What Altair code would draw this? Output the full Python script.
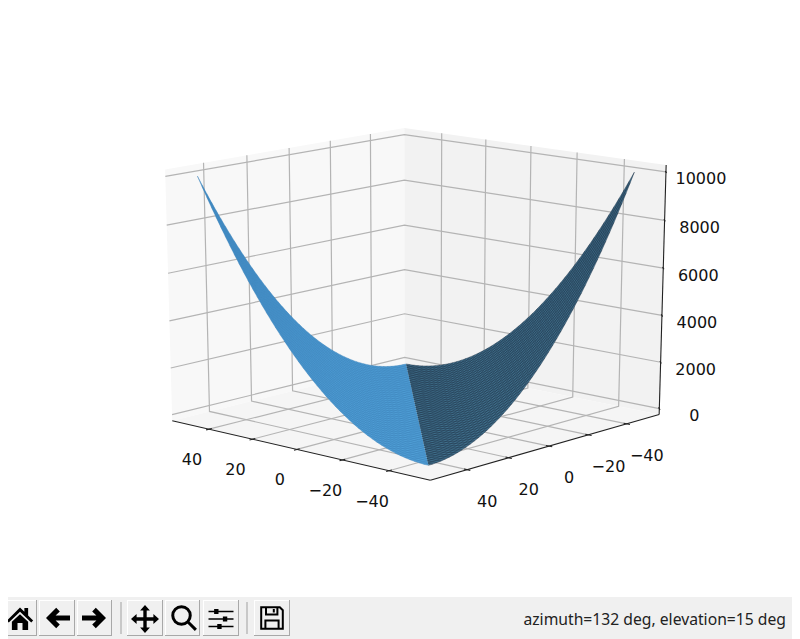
import math
import numpy as np
import pandas as pd
import altair as alt

# ---- values
azimuth, elevation = 132.0, 15.9   # the status line shows these cut down to whole degrees
status_text = "azimuth=132 deg, elevation=15 deg"
surface_extent = [-50, 50]
x_limits = [-55, 55]
y_limits = [-55, 55]
z_limits = [-50, 10075]
x_ticks = [40, 20, 0, -20, -40]
y_ticks = [40, 20, 0, -20, -40]
z_ticks = [0, 2000, 4000, 6000, 8000, 10000]
grid_step = 2
# height of the surface at distance |x+y| = 0, 2, 4 ... 100 from the valley
trough_height = [0, 4, 16, 36, 64, 100, 144, 196, 256, 324, 400, 484, 576, 676, 784, 900, 1024,
                 1156, 1296, 1444, 1600, 1764, 1936, 2116, 2304, 2500, 2704, 2916, 3136, 3364,
                 3600, 3844, 4096, 4356, 4624, 4900, 5184, 5476, 5776, 6084, 6400, 6724, 7056,
                 7396, 7744, 8100, 8464, 8836, 9216, 9604, 10000]

# ---- 3D view (perspective camera)
dist = 10.0
az, el = math.radians(azimuth), math.radians(elevation)
R = np.array([0.5, 0.5, 0.5])
E = R + dist * np.array([math.cos(el) * math.cos(az), math.cos(el) * math.sin(az), math.sin(el)])
n = (E - R) / np.linalg.norm(E - R)
u = np.cross([0, 0, 1.0], n)
u /= np.linalg.norm(u)
v = np.cross(n, u)


def raw(px, py, pz):
    P = np.array([px, py, pz]) - E
    w = -n.dot(P)
    return u.dot(P) / w, v.dot(P) / w


# where the box sits on the page: unit-cube corner -> screen position
pad = 1 / 48
anchors = [
    ((1 + pad, 1 + pad, -pad), (172, 420)),
    ((-pad, 1 + pad, -pad), (430, 481)),
    ((-pad, -pad, -pad), (659, 412)),
    ((1 + pad, -pad, -pad), (405, 366)),
    ((1 + pad, 1 + pad, 1 + pad), (165, 169)),
    ((1 + pad, -pad, 1 + pad), (405, 128)),
    ((-pad, -pad, 1 + pad), (666, 165)),
]
A = np.array([raw(*a[0]) for a in anchors])
B = np.array([a[1] for a in anchors], dtype=float)
cx = np.polyfit(A[:, 0], B[:, 0], 1)
cy = np.polyfit(A[:, 1], B[:, 1], 1)


def unit(x, y, z):
    return ((x - x_limits[0]) / (x_limits[1] - x_limits[0]),
            (y - y_limits[0]) / (y_limits[1] - y_limits[0]),
            (z - z_limits[0]) / (z_limits[1] - z_limits[0]))


def proj(x, y, z):
    X, Y = raw(*unit(x, y, z))
    return cx[0] * X + cx[1], cy[0] * Y + cy[1]


def height(x, y):
    return trough_height[abs(x + y) // grid_step]


xs = x_limits[1] - x_limits[0]
ys = y_limits[1] - y_limits[0]
zs = z_limits[1] - z_limits[0]
xa, xb = x_limits[0] - xs * pad, x_limits[1] + xs * pad
ya, yb = y_limits[0] - ys * pad, y_limits[1] + ys * pad
za, zb = z_limits[0] - zs * pad, z_limits[1] + zs * pad

X_SCALE = alt.Scale(domain=[8, 792], nice=False, zero=False)
Y_SCALE = alt.Scale(domain=[639, 8], nice=False, zero=False)


def frame(paths):
    rows = []
    for k, path in enumerate(paths):
        for i, (a, b) in enumerate(path):
            rows.append({"id": k, "i": i, "a": float(a), "b": float(b)})
    return pd.DataFrame(rows)


def enc(chart):
    return chart.encode(
        x=alt.X("a:Q", scale=X_SCALE, axis=None),
        y=alt.Y("b:Q", scale=Y_SCALE, axis=None),
        detail="id:N",
        order="i:Q",
    )


def polys(paths, fill):
    return enc(alt.Chart(frame(paths)).mark_line(fill=fill, strokeWidth=0, interpolate="linear-closed", opacity=1))


def lines(paths, color, width, opacity=1.0):
    return enc(alt.Chart(frame(paths)).mark_line(color=color, strokeWidth=width, opacity=opacity))


def P3(pts):
    return [proj(*p) for p in pts]


layers = []

# panes
layers.append(polys([P3([(xb, yb, za), (xb, ya, za), (xb, ya, zb), (xb, yb, zb)])], "#f8f8f8"))
layers.append(polys([P3([(xb, ya, za), (xa, ya, za), (xa, ya, zb), (xb, ya, zb)])], "#f2f2f2"))
layers.append(polys([P3([(xa, ya, za), (xb, ya, za), (xb, yb, za), (xa, yb, za)])], "#f5f5f5"))

# grid
grid = []
for t in x_ticks:
    grid.append(P3([(t, yb, za), (t, ya, za), (t, ya, zb)]))
for t in y_ticks:
    grid.append(P3([(xa, t, za), (xb, t, za), (xb, t, zb)]))
for t in z_ticks:
    grid.append(P3([(xb, yb, t), (xb, ya, t), (xa, ya, t)]))
layers.append(lines(grid, "#b4b4b4", 1.2))

# axis lines and ticks
ax_lines = [P3([(xb, yb, za), (xa, yb, za)]), P3([(xa, yb, za), (xa, ya, za)]), P3([(xa, ya, za), (xa, ya, zb)])]
d = 0.012
for t in x_ticks:
    ax_lines.append(P3([(t, yb - ys * d, za), (t, yb + ys * d, za)]))
for t in y_ticks:
    ax_lines.append(P3([(xa - xs * d, t, za), (xa + xs * d, t, za)]))
for t in z_ticks:
    ax_lines.append(P3([(xa + xs * d, ya - ys * d, t), (xa - xs * d, ya + ys * d, t)]))
layers.append(lines(ax_lines, "#222222", 1.1))

# surface
lo, hi = surface_extent
steps = list(range(lo, hi + 1, grid_step))
rev = steps[::-1]
left_poly = [(x, hi, height(x, hi)) for x in rev] + [(hi, y, height(hi, y)) for y in steps]
right_poly = [(lo, y, height(lo, y)) for y in rev] + [(x, lo, height(x, lo)) for x in steps]
layers.append(polys([P3(left_poly)], "#509fd6"))
layers.append(polys([P3(right_poly)], "#3f6e8a"))

mesh_left, mesh_right = [], []
for c in steps:
    a = [(c, y) for y in steps if c + y >= 0]
    b = [(c, y) for y in steps if c + y <= 0]
    e = [(x, c) for x in steps if x + c >= 0]
    f = [(x, c) for x in steps if x + c <= 0]
    for seq in (a, e):
        if len(seq) > 1:
            mesh_left.append(P3([(p, q, height(p, q)) for p, q in seq]))
    for seq in (b, f):
        if len(seq) > 1:
            mesh_right.append(P3([(p, q, height(p, q)) for p, q in seq]))
layers.append(lines(mesh_left, "#3a7fb5", 0.4))
layers.append(lines(mesh_right, "#1d3042", 0.45))

# tick labels
lab = []
for t in x_ticks:
    a, b = proj(t, yb, za)
    lab.append({"a": a - 17, "b": b + 31, "t": str(t).replace("-", "\u2212")})
for t in y_ticks:
    a, b = proj(xa, t, za)
    lab.append({"a": a + 20, "b": b + 32, "t": str(t).replace("-", "\u2212")})
for t in z_ticks:
    a, b = proj(xa, ya, t)
    lab.append({"a": a + 35, "b": b + 7.5, "t": str(t)})
layers.append(alt.Chart(pd.DataFrame(lab)).mark_text(font="DejaVu Sans", fontSize=16, color="#111111",
                                                      align="center", baseline="middle").encode(
    x=alt.X("a:Q", scale=X_SCALE, axis=None), y=alt.Y("b:Q", scale=Y_SCALE, axis=None), text="t:N"))

# toolbar
def rect(x0, x1, y0, y1, color):
    return alt.Chart(pd.DataFrame({"a": [max(x0, 8)], "a2": [min(x1, 792)], "b": [y0], "b2": [y1]})).mark_rect(color=color).encode(
        x=alt.X("a:Q", scale=X_SCALE, axis=None), x2="a2:Q",
        y=alt.Y("b:Q", scale=Y_SCALE, axis=None), y2="b2:Q")


layers.append(rect(0, 800, 597, 639, "#f0f0f0"))
buttons = [(3, 37), (39, 75), (77, 112), (127, 163), (165, 200), (203, 239), (254, 290)]
for b0, b1 in buttons:
    layers.append(rect(b0, b1, 600, 636, "#a8a8a8"))
    layers.append(rect(b0, b1 - 1, 600, 635, "#ffffff"))
    layers.append(rect(b0 + 1, b1 - 1, 601, 635, "#f0f0f0"))
for sx in (120, 246):
    layers.append(rect(sx, sx + 2, 602, 634, "#c8c8c8"))

ICON_HOME = "M0,-0.85 L0.35,-0.5 L0.35,-0.8 L0.65,-0.8 L0.65,-0.2 L1.05,0.2 L0.9,0.35 L0,-0.5 L-0.9,0.35 L-1.05,0.2 Z M-0.65,0.3 L0,-0.3 L0.65,0.3 L0.65,0.95 L0.2,0.95 L0.2,0.4 L-0.2,0.4 L-0.2,0.95 L-0.65,0.95 Z"
ICON_LEFT = "M-1,0 L-0.15,-0.85 L0.15,-0.55 L-0.2,-0.2 L1,-0.2 L1,0.2 L-0.2,0.2 L0.15,0.55 L-0.15,0.85 Z"
ICON_RIGHT = "M1,0 L0.15,-0.85 L-0.15,-0.55 L0.2,-0.2 L-1,-0.2 L-1,0.2 L0.2,0.2 L-0.15,0.55 L0.15,0.85 Z"
ICON_MOVE = "M0,-1 L0.35,-0.6 L0.12,-0.6 L0.12,-0.12 L0.6,-0.12 L0.6,-0.35 L1,0 L0.6,0.35 L0.6,0.12 L0.12,0.12 L0.12,0.6 L0.35,0.6 L0,1 L-0.35,0.6 L-0.12,0.6 L-0.12,0.12 L-0.6,0.12 L-0.6,0.35 L-1,0 L-0.6,-0.35 L-0.6,-0.12 L-0.12,-0.12 L-0.12,-0.6 L-0.35,-0.6 Z"
ICON_ZOOM = "M0.5,-0.2 A0.7,0.7 0 1,1 -0.9,-0.2 A0.7,0.7 0 1,1 0.5,-0.2 M0.3,0.3 L0.95,0.95"
ICON_SLIDE = "M-1,-0.6 L1,-0.6 M-1,0 L1,0 M-1,0.6 L1,0.6"
ICON_KNOBS = "M-0.55,-0.8 L-0.2,-0.8 L-0.2,-0.4 L-0.55,-0.4 Z M0.15,-0.2 L0.5,-0.2 L0.5,0.2 L0.15,0.2 Z M-0.3,0.4 L0.05,0.4 L0.05,0.8 L-0.3,0.8 Z"
ICON_SAVE = "M-0.9,-0.9 L0.65,-0.9 L0.9,-0.65 L0.9,0.9 L-0.9,0.9 Z M-0.5,-0.9 L-0.5,-0.3 L0.45,-0.3 L0.45,-0.9 M0.15,-0.75 L0.15,-0.45 M-0.55,0.9 L-0.55,0.2 L0.55,0.2 L0.55,0.9"


def icon(cx_, cy_, path, size, filled, width=0):
    ch = alt.Chart(pd.DataFrame({"a": [cx_], "b": [cy_]}))
    if filled:
        m = ch.mark_point(shape=path, size=size, filled=True, color="#000000", opacity=1)
    else:
        m = ch.mark_point(shape=path, size=size, filled=False, color="#000000", strokeWidth=width, opacity=1)
    return m.encode(x=alt.X("a:Q", scale=X_SCALE, axis=None), y=alt.Y("b:Q", scale=Y_SCALE, axis=None))


layers.append(icon(20, 618, ICON_HOME, 625, True))
layers.append(icon(58, 618, ICON_LEFT, 576, True))
layers.append(icon(94, 618, ICON_RIGHT, 576, True))
layers.append(icon(145, 619, ICON_MOVE, 784, True))
layers.append(icon(184, 618, ICON_ZOOM, 625, False, 3))
layers.append(icon(221, 619, ICON_SLIDE, 625, False, 1.6))
layers.append(icon(221, 619, ICON_KNOBS, 625, True))
layers.append(icon(272, 618, ICON_SAVE, 576, False, 2))

layers.append(alt.Chart(pd.DataFrame({"a": [786], "b": [620], "t": [status_text]})).mark_text(
    font="Noto Sans", fontSize=15.7, color="#222222", align="right", baseline="middle").encode(
    x=alt.X("a:Q", scale=X_SCALE, axis=None), y=alt.Y("b:Q", scale=Y_SCALE, axis=None), text="t:N"))

chart = alt.layer(*layers).properties(
    width=784, height=631, padding=0, background="#ffffff",
    autosize=alt.AutoSizeParams(type="none"),
).configure_view(stroke=None)
chart.save("out.html", embed_options={"renderer": "svg", "actions": False})
